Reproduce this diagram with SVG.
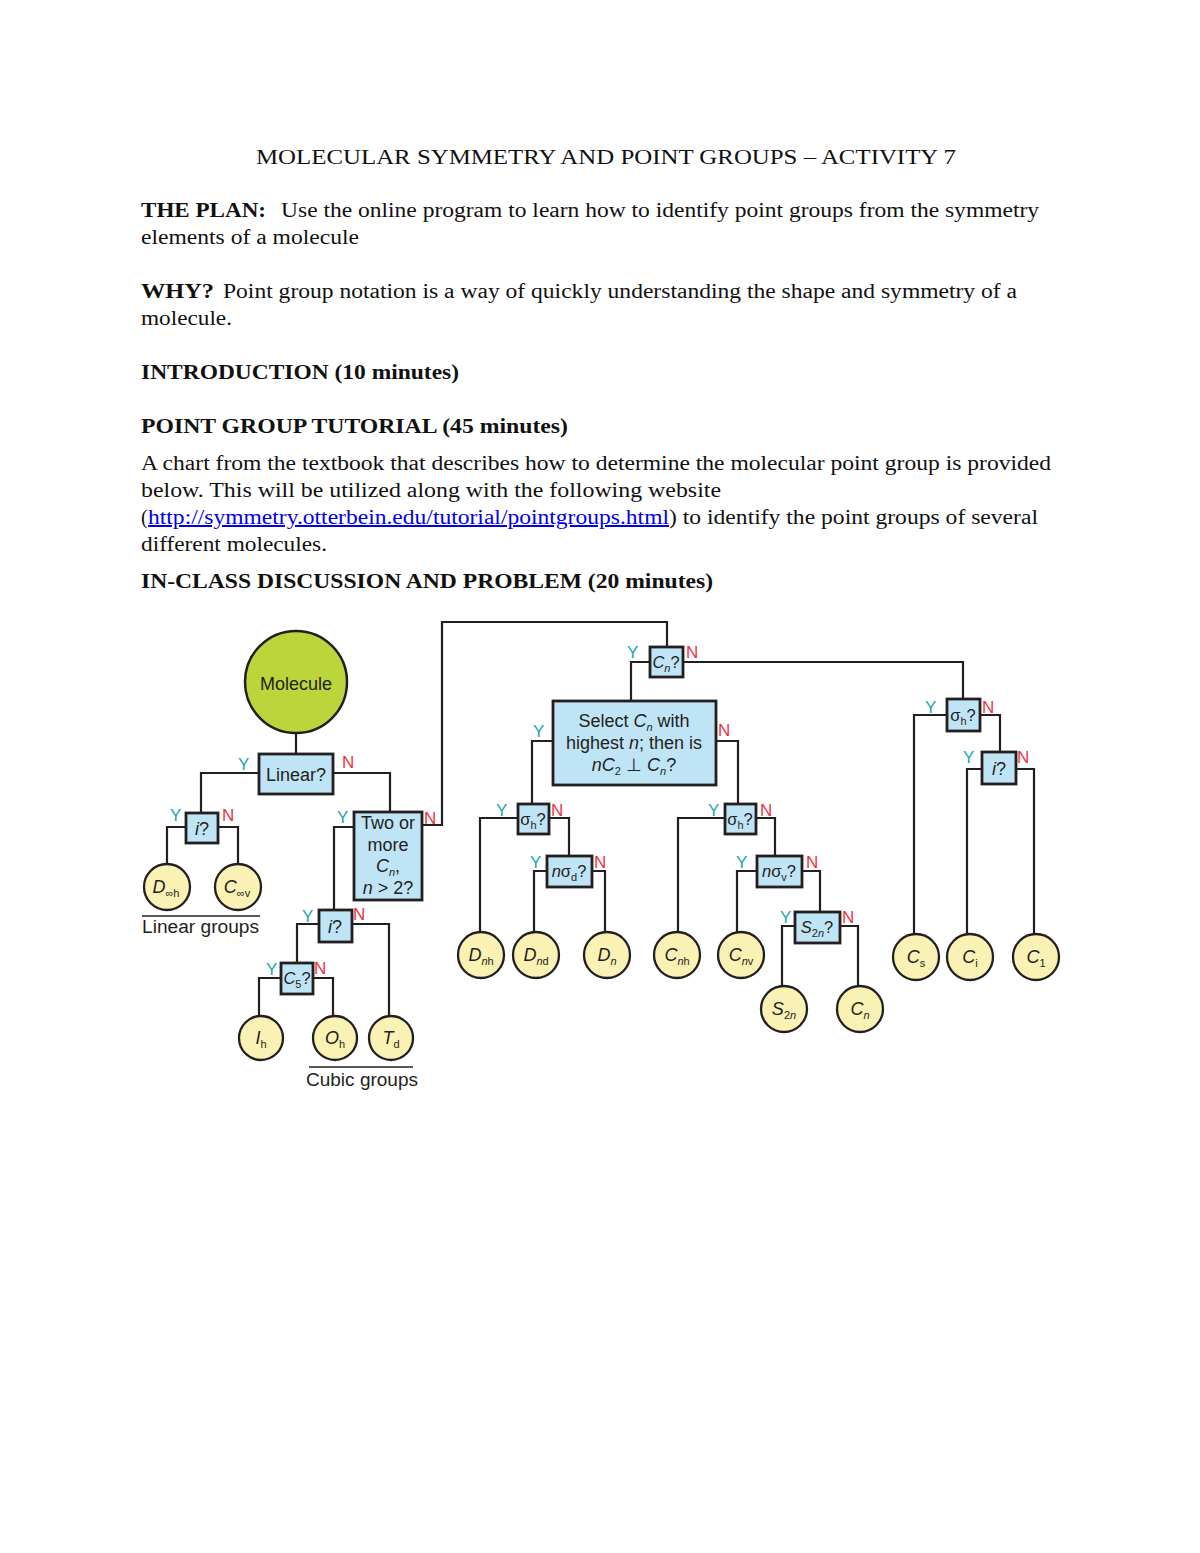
<svg xmlns="http://www.w3.org/2000/svg" width="1200" height="1553" viewBox="0 0 1200 1553">
<style>
.doc{font-family:"Liberation Serif","Times New Roman",serif;font-size:20px;fill:#111}
.b{font-weight:bold}
.title{font-size:22px}
.link{fill:#0000ee;text-decoration:underline}
.box{fill:#bfe4f6;stroke:#231f20;stroke-width:2.8}
.leaf{fill:#faf1b4;stroke:#231f20;stroke-width:2.3}
.mol{fill:#bcd53a;stroke:#231f20;stroke-width:2.5}
.lbl{font-family:"Liberation Sans",Arial,sans-serif;font-size:18px;fill:#231f20;text-anchor:middle}
.sm{font-size:16.5px}
.it{font-style:italic}
.sub{font-size:11px}
.yn{font-family:"Liberation Sans",Arial,sans-serif;font-size:17px}
.y{fill:#1ba8b2}
.n{fill:#ec3447}
.conn{fill:none;stroke:#231f20;stroke-width:2.2}
.grp{font-family:"Liberation Sans",Arial,sans-serif;font-size:18px;fill:#231f20}
</style>
<rect width="1200" height="1553" fill="#ffffff"/>

<g id="document-text" class="doc">
<text x="256" y="164" class="title" textLength="700" lengthAdjust="spacingAndGlyphs">MOLECULAR SYMMETRY AND POINT GROUPS – ACTIVITY 7</text>
<text x="141" y="217" class="b" textLength="125" lengthAdjust="spacingAndGlyphs">THE PLAN:</text>
<text x="281" y="217" textLength="758" lengthAdjust="spacingAndGlyphs">Use the online program to learn how to identify point groups from the symmetry</text>
<text x="141" y="244" textLength="218" lengthAdjust="spacingAndGlyphs">elements of a molecule</text>
<text x="141" y="298" class="b" textLength="73" lengthAdjust="spacingAndGlyphs">WHY?</text>
<text x="223" y="298" textLength="794" lengthAdjust="spacingAndGlyphs">Point group notation is a way of quickly understanding the shape and symmetry of a</text>
<text x="141" y="325" textLength="91" lengthAdjust="spacingAndGlyphs">molecule.</text>
<text x="141" y="379" class="b" textLength="318" lengthAdjust="spacingAndGlyphs">INTRODUCTION (10 minutes)</text>
<text x="141" y="433" class="b" textLength="427" lengthAdjust="spacingAndGlyphs">POINT GROUP TUTORIAL (45 minutes)</text>
<text x="141" y="470" textLength="910" lengthAdjust="spacingAndGlyphs">A chart from the textbook that describes how to determine the molecular point group is provided</text>
<text x="141" y="497" textLength="580" lengthAdjust="spacingAndGlyphs">below.  This will be utilized along with the following website</text>
<text x="141" y="524">(</text>
<text x="148" y="524" class="link" textLength="521" lengthAdjust="spacingAndGlyphs">http://symmetry.otterbein.edu/tutorial/pointgroups.html</text>
<text x="669" y="524" textLength="369" lengthAdjust="spacingAndGlyphs">) to identify the point groups of several</text>
<text x="141" y="551" textLength="186" lengthAdjust="spacingAndGlyphs">different molecules.</text>
<text x="141" y="588" class="b" textLength="572" lengthAdjust="spacingAndGlyphs">IN-CLASS DISCUSSION AND PROBLEM (20 minutes)</text>
</g>

<g id="connectors" class="conn">
<path d="M296,734 V754"/>
<path d="M259,773 H201 V813"/>
<path d="M333,773 H390 V812"/>
<path d="M186,827 H167 V864"/>
<path d="M218,827 H238 V864"/>
<path d="M422,825 H442 V622 H667 V647"/>
<path d="M354,827 H334 V910"/>
<path d="M319,924 H297 V963"/>
<path d="M352,924 H389 V1016"/>
<path d="M281,978 H259 V1016"/>
<path d="M313,978 H333 V1016"/>
<path d="M650,662 H631 V701"/>
<path d="M683,662 H963 V699"/>
<path d="M553,741 H532 V804"/>
<path d="M716,741 H738 V804"/>
<path d="M518,818 H480 V932"/>
<path d="M549,818 H569 V856"/>
<path d="M547,871 H534 V932"/>
<path d="M592,871 H605 V932"/>
<path d="M725,818 H678 V932"/>
<path d="M756,818 H775 V856"/>
<path d="M757,871 H737 V932"/>
<path d="M802,871 H820 V912"/>
<path d="M795,926 H782 V986"/>
<path d="M840,926 H858 V986"/>
<path d="M947,715 H914 V934"/>
<path d="M980,715 H1000 V752"/>
<path d="M982,769 H967 V934"/>
<path d="M1016,769 H1034 V934"/>
</g>

<g id="yn-labels" class="yn">
<text x="238" y="770" class="y">Y</text><text x="342" y="768" class="n">N</text>
<text x="170" y="821" class="y">Y</text><text x="222" y="821" class="n">N</text>
<text x="337" y="823" class="y">Y</text><text x="424" y="824" class="n">N</text>
<text x="302" y="922" class="y">Y</text><text x="353" y="920" class="n">N</text>
<text x="266" y="975" class="y">Y</text><text x="314" y="974" class="n">N</text>
<text x="627" y="658" class="y">Y</text><text x="686" y="658" class="n">N</text>
<text x="533" y="737" class="y">Y</text><text x="718" y="736" class="n">N</text>
<text x="496" y="816" class="y">Y</text><text x="551" y="816" class="n">N</text>
<text x="530" y="868" class="y">Y</text><text x="594" y="868" class="n">N</text>
<text x="708" y="816" class="y">Y</text><text x="760" y="816" class="n">N</text>
<text x="736" y="868" class="y">Y</text><text x="806" y="868" class="n">N</text>
<text x="780" y="923" class="y">Y</text><text x="842" y="923" class="n">N</text>
<text x="925" y="713" class="y">Y</text><text x="982" y="713" class="n">N</text>
<text x="963" y="763" class="y">Y</text><text x="1017" y="763" class="n">N</text>
</g>

<g id="node-molecule"><circle cx="296" cy="682" r="51" class="mol"/><text x="296" y="690" class="lbl" font-size="20">Molecule</text></g>
<g id="node-linear"><rect x="259" y="754" width="74" height="40" class="box"/><text x="296" y="781" class="lbl" font-size="19">Linear?</text></g>
<g id="node-i-linear"><rect x="186" y="813" width="32" height="30" class="box"/><text x="202" y="835" class="lbl"><tspan class="it">i</tspan>?</text></g>
<g id="node-Dinfh"><circle cx="167" cy="887" r="23" class="leaf"/><text x="166" y="893" class="lbl"><tspan class="it">D</tspan><tspan class="sub" dy="4">∞h</tspan></text></g>
<g id="node-Cinfv"><circle cx="238" cy="887" r="23" class="leaf"/><text x="237" y="893" class="lbl"><tspan class="it">C</tspan><tspan class="sub" dy="4">∞v</tspan></text></g>
<g id="label-linear-groups"><path d="M142,916 H260" stroke="#231f20" stroke-width="1.6"/><text x="142" y="933" class="grp" textLength="117" lengthAdjust="spacingAndGlyphs">Linear groups</text></g>

<g id="node-two-or-more"><rect x="354" y="812" width="68" height="88" class="box"/>
<text x="388" y="829" class="lbl">Two or</text>
<text x="388" y="851" class="lbl">more</text>
<text x="388" y="872" class="lbl"><tspan class="it">C</tspan><tspan class="sub it" dy="4">n</tspan><tspan dy="-4">,</tspan></text>
<text x="388" y="894" class="lbl"><tspan class="it">n</tspan> &gt; 2?</text></g>
<g id="node-i-cubic"><rect x="319" y="910" width="33" height="32" class="box"/><text x="335" y="933" class="lbl"><tspan class="it">i</tspan>?</text></g>
<g id="node-C5"><rect x="281" y="963" width="32" height="31" class="box"/><text x="297" y="984" class="lbl sm"><tspan class="it">C</tspan><tspan class="sub" dy="4">5</tspan><tspan dy="-4">?</tspan></text></g>
<g id="node-Ih"><circle cx="261" cy="1038" r="22" class="leaf"/><text x="261" y="1044" class="lbl"><tspan class="it">I</tspan><tspan class="sub" dy="4">h</tspan></text></g>
<g id="node-Oh"><circle cx="335" cy="1038" r="22" class="leaf"/><text x="335" y="1044" class="lbl"><tspan class="it">O</tspan><tspan class="sub" dy="4">h</tspan></text></g>
<g id="node-Td"><circle cx="391" cy="1038" r="22" class="leaf"/><text x="391" y="1044" class="lbl"><tspan class="it">T</tspan><tspan class="sub" dy="4">d</tspan></text></g>
<g id="label-cubic-groups"><path d="M309,1067 H413" stroke="#231f20" stroke-width="1.6"/><text x="306" y="1086" class="grp" textLength="112" lengthAdjust="spacingAndGlyphs">Cubic groups</text></g>

<g id="node-Cn"><rect x="650" y="647" width="33" height="30" class="box"/><text x="666" y="668" class="lbl sm"><tspan class="it">C</tspan><tspan class="sub it" dy="4">n</tspan><tspan dy="-4">?</tspan></text></g>
<g id="node-select"><rect x="553" y="701" width="163" height="84" class="box"/>
<text x="634" y="727" class="lbl">Select <tspan class="it">C</tspan><tspan class="sub it" dy="4">n</tspan><tspan dy="-4"> with</tspan></text>
<text x="634" y="749" class="lbl">highest <tspan class="it">n</tspan>; then is</text>
<text x="634" y="771" class="lbl"><tspan class="it">nC</tspan><tspan class="sub" dy="4">2</tspan><tspan dy="-4"> ⊥ </tspan><tspan class="it">C</tspan><tspan class="sub it" dy="4">n</tspan><tspan dy="-4">?</tspan></text></g>

<g id="node-sigmah-D"><rect x="518" y="804" width="31" height="30" class="box"/><text x="533" y="825" class="lbl sm">σ<tspan class="sub" dy="4">h</tspan><tspan dy="-4">?</tspan></text></g>
<g id="node-nsigmad"><rect x="547" y="856" width="45" height="31" class="box"/><text x="569" y="877" class="lbl sm"><tspan class="it">n</tspan>σ<tspan class="sub" dy="4">d</tspan><tspan dy="-4">?</tspan></text></g>
<g id="node-Dnh"><circle cx="481" cy="955" r="23" class="leaf"/><text x="481" y="961" class="lbl"><tspan class="it">D</tspan><tspan class="sub" dy="4"><tspan class="it">n</tspan>h</tspan></text></g>
<g id="node-Dnd"><circle cx="536" cy="955" r="23" class="leaf"/><text x="536" y="961" class="lbl"><tspan class="it">D</tspan><tspan class="sub" dy="4"><tspan class="it">n</tspan>d</tspan></text></g>
<g id="node-Dn"><circle cx="607" cy="955" r="23" class="leaf"/><text x="607" y="961" class="lbl"><tspan class="it">D</tspan><tspan class="sub it" dy="4">n</tspan></text></g>

<g id="node-sigmah-C"><rect x="725" y="804" width="31" height="30" class="box"/><text x="740" y="825" class="lbl sm">σ<tspan class="sub" dy="4">h</tspan><tspan dy="-4">?</tspan></text></g>
<g id="node-nsigmav"><rect x="757" y="856" width="45" height="31" class="box"/><text x="779" y="877" class="lbl sm"><tspan class="it">n</tspan>σ<tspan class="sub" dy="4">v</tspan><tspan dy="-4">?</tspan></text></g>
<g id="node-S2n-q"><rect x="795" y="912" width="45" height="31" class="box"/><text x="817" y="933" class="lbl sm"><tspan class="it">S</tspan><tspan class="sub" dy="4">2<tspan class="it">n</tspan></tspan><tspan dy="-4">?</tspan></text></g>
<g id="node-Cnh"><circle cx="677" cy="955" r="23" class="leaf"/><text x="677" y="961" class="lbl"><tspan class="it">C</tspan><tspan class="sub" dy="4"><tspan class="it">n</tspan>h</tspan></text></g>
<g id="node-Cnv"><circle cx="741" cy="955" r="23" class="leaf"/><text x="741" y="961" class="lbl"><tspan class="it">C</tspan><tspan class="sub" dy="4"><tspan class="it">n</tspan>v</tspan></text></g>
<g id="node-S2n"><circle cx="784" cy="1009" r="23" class="leaf"/><text x="784" y="1015" class="lbl"><tspan class="it">S</tspan><tspan class="sub" dy="4">2<tspan class="it">n</tspan></tspan></text></g>
<g id="node-Cn-leaf"><circle cx="860" cy="1009" r="23" class="leaf"/><text x="860" y="1015" class="lbl"><tspan class="it">C</tspan><tspan class="sub it" dy="4">n</tspan></text></g>

<g id="node-sigmah-low"><rect x="947" y="699" width="33" height="32" class="box"/><text x="963" y="721" class="lbl sm">σ<tspan class="sub" dy="4">h</tspan><tspan dy="-4">?</tspan></text></g>
<g id="node-i-low"><rect x="982" y="752" width="34" height="32" class="box"/><text x="999" y="775" class="lbl"><tspan class="it">i</tspan>?</text></g>
<g id="node-Cs"><circle cx="916" cy="957" r="23" class="leaf"/><text x="916" y="963" class="lbl"><tspan class="it">C</tspan><tspan class="sub" dy="4">s</tspan></text></g>
<g id="node-Ci"><circle cx="970" cy="957" r="23" class="leaf"/><text x="970" y="963" class="lbl"><tspan class="it">C</tspan><tspan class="sub" dy="4">i</tspan></text></g>
<g id="node-C1"><circle cx="1036" cy="957" r="23" class="leaf"/><text x="1036" y="963" class="lbl"><tspan class="it">C</tspan><tspan class="sub" dy="4">1</tspan></text></g>
</svg>
